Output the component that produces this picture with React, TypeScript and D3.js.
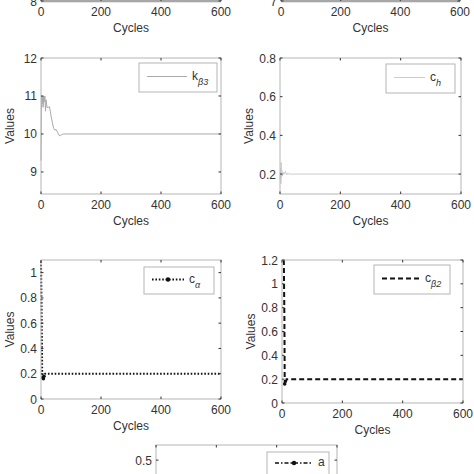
import React, { useEffect, useRef } from 'react';
import * as d3 from 'd3';

const xTicks = [0, 200, 400, 600];

// k_beta3
const kb3Cycles = [0, 1, 2, 4, 5, 7, 9, 11, 13, 15, 17, 20, 24, 28, 31, 34, 38, 42, 46, 50, 55, 60, 64, 68, 75, 90, 150, 600];
const kb3Values = [9.3, 10.3, 11.0, 10.8, 11.0, 10.7, 11.0, 10.85, 11.0, 10.6, 10.9, 10.7, 10.7, 10.72, 10.6, 10.45, 10.3, 10.15, 10.1, 10.12, 10.05, 9.97, 9.95, 9.98, 10, 10, 10, 10];

// c_h
const chCycles = [0, 2, 3, 4, 5, 6, 8, 10, 12, 15, 18, 22, 26, 30, 40, 600];
const chValues = [0.17, 0.23, 0.15, 0.26, 0.18, 0.22, 0.19, 0.21, 0.2, 0.2, 0.215, 0.195, 0.205, 0.2, 0.2, 0.2];

// c_alpha
const caCycles = [0, 2, 4, 6, 8, 10, 14, 600];
const caValues = [1.09, 0.7, 0.2, 0.17, 0.16, 0.18, 0.2, 0.2];
const caMarkers = [3, 4, 5];

// c_beta2
const cb2Cycles = [6, 8, 9, 11, 15, 600];
const cb2Values = [1.2, 0.7, 0.16, 0.15, 0.2, 0.2];
const cb2Markers = [2];

// partial panels (only their bottom edge shows)
const topLeftValues = [8, 8];
const topRightValues = [7, 7];
const edgeCycles = [0, 600];

interface Series {
  x: number[];
  y: number[];
  color: string;
  width: number;
  dash?: string;
  markers?: number[];
}

interface PanelSpec {
  left: number;
  right: number;
  top: number;
  bottom: number;
  yDomain: [number, number];
  yTicks: number[];
  yTickLabels: string[];
  series: Series[];
  legend?: { x0: number; x1: number; y0: number; y1: number; main: string; sub: string; series: Series };
  showXLabels: boolean;
}

const TEXT = '#333';
const BOX = '#b5b5b5';
const FONT = 'Liberation Sans, Arial, sans-serif';

const panels: PanelSpec[] = [
  {
    left: 41, right: 221, top: -136, bottom: 1,
    yDomain: [8, 12], yTicks: [8], yTickLabels: ['8'],
    series: [{ x: edgeCycles, y: topLeftValues, color: '#999', width: 2.5 }],
    showXLabels: true,
  },
  {
    left: 281, right: 460, top: -136, bottom: 1,
    yDomain: [7, 11], yTicks: [7], yTickLabels: ['7'],
    series: [{ x: edgeCycles, y: topRightValues, color: '#999', width: 2.5 }],
    showXLabels: true,
  },
  {
    left: 41, right: 221, top: 58, bottom: 194,
    yDomain: [8.42, 12], yTicks: [9, 10, 11, 12], yTickLabels: ['9', '10', '11', '12'],
    series: [{ x: kb3Cycles, y: kb3Values, color: '#aaa', width: 1 }],
    legend: { x0: 139, x1: 217, y0: 63, y1: 92, main: 'k', sub: 'β3', series: { x: [], y: [], color: '#aaa', width: 1 } },
    showXLabels: true,
  },
  {
    left: 280, right: 461, top: 58, bottom: 194,
    yDomain: [0.097, 0.8], yTicks: [0.2, 0.4, 0.6, 0.8], yTickLabels: ['0.2', '0.4', '0.6', '0.8'],
    series: [{ x: chCycles, y: chValues, color: '#ccc', width: 1 }],
    legend: { x0: 386, x1: 455, y0: 64, y1: 93, main: 'c', sub: 'h', series: { x: [], y: [], color: '#ccc', width: 1 } },
    showXLabels: true,
  },
  {
    left: 41, right: 221, top: 260, bottom: 399,
    yDomain: [0, 1.1], yTicks: [0, 0.2, 0.4, 0.6, 0.8, 1], yTickLabels: ['0', '0.2', '0.4', '0.6', '0.8', '1'],
    series: [{ x: caCycles, y: caValues, color: '#111', width: 2, dash: '1.6,1.8', markers: caMarkers }],
    legend: { x0: 144, x1: 214, y0: 267, y1: 294, main: 'c', sub: 'α', series: { x: [], y: [], color: '#111', width: 2, dash: '1.6,1.8', markers: [0] } },
    showXLabels: true,
  },
  {
    left: 282, right: 463, top: 260, bottom: 403,
    yDomain: [0, 1.2], yTicks: [0, 0.2, 0.4, 0.6, 0.8, 1, 1.2], yTickLabels: ['0', '0.2', '0.4', '0.6', '0.8', '1', '1.2'],
    series: [{ x: cb2Cycles, y: cb2Values, color: '#111', width: 2, dash: '5,3', markers: cb2Markers }],
    legend: { x0: 374, x1: 450, y0: 265, y1: 294, main: 'c', sub: 'β2', series: { x: [], y: [], color: '#111', width: 2, dash: '5,3' } },
    showXLabels: true,
  },
  {
    left: 156, right: 337, top: 445, bottom: 581,
    yDomain: [0.1, 0.55], yTicks: [0.5], yTickLabels: ['0.5'],
    series: [],
    legend: { x0: 267, x1: 329, y0: 452, y1: 480, main: 'a', sub: '', series: { x: [], y: [], color: '#111', width: 1.4, dash: '4,2,1.5,2', markers: [0] } },
    showXLabels: false,
  },
];

const drawPanel = (svg: d3.Selection<SVGSVGElement, unknown, null, undefined>, p: PanelSpec) => {
  const x = d3.scaleLinear().domain([0, 600]).range([p.left, p.right]);
  const y = d3.scaleLinear().domain(p.yDomain).range([p.bottom, p.top]);
  const g = svg.append('g');

  // data
  p.series.forEach((s) => {
    const pts = s.x.map((c, i) => [x(c), y(s.y[i])] as [number, number]);
    g.append('path')
      .attr('d', d3.line()(pts))
      .attr('fill', 'none')
      .attr('stroke', s.color)
      .attr('stroke-width', s.width)
      .attr('stroke-dasharray', s.dash || null);
    (s.markers || []).forEach((i) => {
      g.append('circle').attr('cx', pts[i][0]).attr('cy', pts[i][1]).attr('r', 1.8).attr('fill', s.color);
    });
  });

  // box
  g.append('rect')
    .attr('x', p.left)
    .attr('y', p.top)
    .attr('width', p.right - p.left)
    .attr('height', p.bottom - p.top)
    .attr('fill', 'none')
    .attr('stroke', BOX)
    .attr('stroke-width', 1);

  // ticks on all sides (inward)
  xTicks.forEach((t) => {
    g.append('line').attr('x1', x(t)).attr('x2', x(t)).attr('y1', p.bottom).attr('y2', p.bottom - 2.5).attr('stroke', TEXT);
    g.append('line').attr('x1', x(t)).attr('x2', x(t)).attr('y1', p.top).attr('y2', p.top + 2.5).attr('stroke', TEXT);
  });
  p.yTicks.forEach((t) => {
    g.append('line').attr('x1', p.left).attr('x2', p.left + 2.5).attr('y1', y(t)).attr('y2', y(t)).attr('stroke', TEXT);
    g.append('line').attr('x1', p.right).attr('x2', p.right - 2.5).attr('y1', y(t)).attr('y2', y(t)).attr('stroke', TEXT);
  });

  // tick labels
  if (p.showXLabels) {
    xTicks.forEach((t) => {
      g.append('text')
        .attr('x', x(t))
        .attr('y', p.bottom + 15)
        .attr('text-anchor', 'middle')
        .attr('font-size', 12)
        .attr('fill', TEXT)
        .text(String(t));
    });
    g.append('text')
      .attr('x', (p.left + p.right) / 2)
      .attr('y', p.bottom + 31)
      .attr('text-anchor', 'middle')
      .attr('font-size', 12)
      .attr('fill', TEXT)
      .text('Cycles');
  }
  p.yTicks.forEach((t, i) => {
    g.append('text')
      .attr('x', p.left - 4)
      .attr('y', y(t) + 4.5)
      .attr('text-anchor', 'end')
      .attr('font-size', 12)
      .attr('fill', TEXT)
      .text(p.yTickLabels[i]);
  });
  if (p.top > 0 && p.bottom < 474) {
    const cy = (p.top + p.bottom) / 2;
    g.append('text')
      .attr('transform', `translate(${p.left - 27},${cy}) rotate(-90)`)
      .attr('text-anchor', 'middle')
      .attr('font-size', 12)
      .attr('fill', TEXT)
      .text('Values');
  }

  // legend
  if (p.legend) {
    const L = p.legend;
    g.append('rect')
      .attr('x', L.x0)
      .attr('y', L.y0)
      .attr('width', L.x1 - L.x0)
      .attr('height', L.y1 - L.y0)
      .attr('fill', '#fff')
      .attr('stroke', BOX);
    const ly = L.main === 'a' ? L.y0 + 11 : (L.y0 + L.y1) / 2 - 1;
    const lx0 = L.x0 + 8;
    const lx1 = L.x1 - (L.main === 'a' ? 16 : 30);
    g.append('line')
      .attr('x1', lx0)
      .attr('x2', lx1)
      .attr('y1', ly)
      .attr('y2', ly)
      .attr('stroke', L.series.color)
      .attr('stroke-width', L.series.width)
      .attr('stroke-dasharray', L.series.dash || null);
    if (L.series.markers) {
      g.append('circle').attr('cx', (lx0 + lx1) / 2).attr('cy', ly).attr('r', 2.2).attr('fill', L.series.color);
    }
    const txt = g.append('text')
      .attr('x', lx1 + 5)
      .attr('y', ly + 3)
      .attr('font-size', 12)
      .attr('fill', TEXT);
    txt.append('tspan').text(L.main);
    if (L.sub) {
      txt.append('tspan').attr('dy', 5).attr('font-size', 9).attr('font-style', 'italic').text(L.sub);
    }
  }
};

export default function App() {
  const svgRef = useRef<SVGSVGElement>(null);

  useEffect(() => {
    if (!svgRef.current) return;
    const svg = d3.select(svgRef.current);
    svg.selectAll('*').remove();
    svg.append('rect').attr('width', 474).attr('height', 474).attr('fill', '#fff');
    panels.forEach((p) => drawPanel(svg, p));
  }, []);

  return (
    <svg
      ref={svgRef}
      width={474}
      height={474}
      style={{ position: 'absolute', left: 0, top: 0, fontFamily: FONT }}
    />
  );
}
